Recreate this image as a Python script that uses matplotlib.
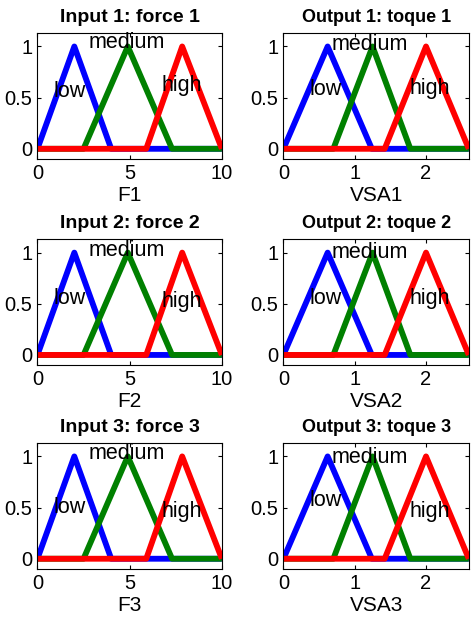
import numpy as np
import matplotlib.pyplot as plt

plt.rcParams['font.family'] = ['Liberation Sans', 'DejaVu Sans']

# membership function parameters [a, b, c] for low, medium, high
in_low = [0, 2, 4]
in_med = [2.5, 4.9, 7.3]
in_high = [5.9, 7.85, 10]
out_low = [0, 0.62, 1.24]
out_med = [0.7, 1.25, 1.78]
out_high = [1.42, 2.0, 2.6]
in_range = [0, 10]
out_range = [0, 2.6]

mf_names = ['low', 'medium', 'high']
in_titles = ['Input 1: force 1', 'Input 2: force 2', 'Input 3: force 3']
out_titles = ['Output 1: toque 1', 'Output 2: toque 2', 'Output 3: toque 3']
in_xlabels = ['F1', 'F2', 'F3']
out_xlabels = ['VSA1', 'VSA2', 'VSA3']

# label positions (x, y) per row for low/medium/high
in_lab_x = [1.77, 4.86, 7.83]
in_lab_y = [[0.56, 1.04, 0.62], [0.55, 1.02, 0.52], [0.50, 1.03, 0.46]]
out_lab_x = [0.59, 1.21, 2.05]
out_lab_y = [[0.58, 1.02, 0.59], [0.55, 1.00, 0.55], [0.57, 0.99, 0.46]]

colors = ['#0000ff', '#008000', '#ff0000']

fig = plt.figure(figsize=(4.74, 6.2), dpi=100)

lefts = [0.079, 0.598]
widths = [0.389, 0.391]
bottoms = [0.7435, 0.411, 0.0823]
height = 0.203


def draw(ax, mfs, xr, lab_x, lab_y, title, xlabel, tsize):
    for p, c in zip(mfs, colors):
        xs = [xr[0], p[0], p[1], p[2], xr[1]]
        ys = [0, 0, 1, 0, 0]
        ax.plot(xs, ys, color=c, lw=4.2, solid_capstyle='butt')
    # labels drawn over the curves
    for name, x, y in zip(mf_names, lab_x, lab_y):
        ax.text(x, y, name, ha='center', va='center', fontsize=15.5)
    ax.set_xlim(xr)
    ax.set_ylim(-0.1, 1.13)
    ax.set_yticks([0, 0.5, 1])
    ax.set_yticklabels(['0', '0.5', '1'])
    ax.tick_params(direction='in', top=True, right=True, length=3,
                   labelsize=14.5, width=0.8)
    ax.set_title(title, fontsize=tsize, fontweight='bold', pad=8)
    ax.set_xlabel(xlabel, fontsize=15, labelpad=2)


for i in range(3):
    ax = fig.add_axes([lefts[0], bottoms[i], widths[0], height])
    draw(ax, [in_low, in_med, in_high], in_range, in_lab_x, in_lab_y[i],
         in_titles[i], in_xlabels[i], 14)
    ax.set_xticks([0, 5, 10])
    ax = fig.add_axes([lefts[1], bottoms[i], widths[1], height])
    draw(ax, [out_low, out_med, out_high], out_range, out_lab_x, out_lab_y[i],
         out_titles[i], out_xlabels[i], 13)
    ax.set_xticks([0, 1, 2])

fig.savefig('out.png', dpi=100)
